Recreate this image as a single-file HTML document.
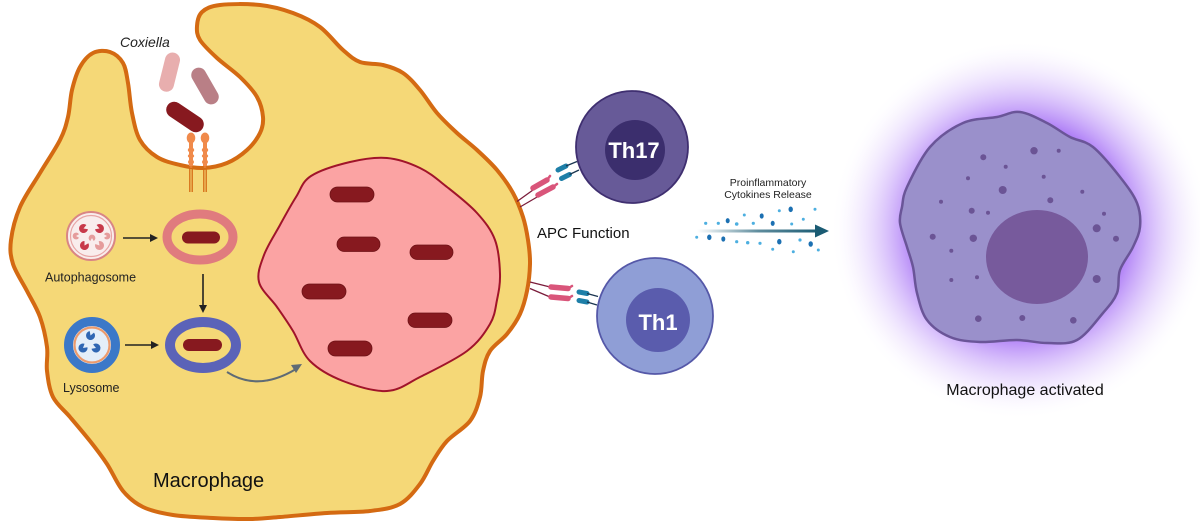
<!DOCTYPE html>
<html><head><meta charset="utf-8">
<style>
html,body{margin:0;padding:0;background:#fff;}
svg{display:block;}
text{font-family:"Liberation Sans",Arial,sans-serif;}
</style></head>
<body>
<svg id="s" width="1200" height="528" viewBox="0 0 1200 528" xmlns="http://www.w3.org/2000/svg">
<defs>
  <radialGradient id="glow" cx="1020" cy="230" r="190" gradientUnits="userSpaceOnUse">
    <stop offset="0" stop-color="#9a5cf2"/>
    <stop offset="0.55" stop-color="#a671f5" stop-opacity="0.95"/>
    <stop offset="0.72" stop-color="#c7a4fa" stop-opacity="0.6"/>
    <stop offset="0.88" stop-color="#e8d9fd" stop-opacity="0.3"/>
    <stop offset="1" stop-color="#ffffff" stop-opacity="0"/>
  </radialGradient>
  <linearGradient id="ag" x1="697" y1="0" x2="820" y2="0" gradientUnits="userSpaceOnUse">
    <stop offset="0" stop-color="#1a5b73" stop-opacity="0"/>
    <stop offset="0.5" stop-color="#1a5b73" stop-opacity="0.7"/>
    <stop offset="1" stop-color="#1a5b73"/>
  </linearGradient>
</defs>

<!-- ============ MACROPHAGE (left) ============ -->
<polygon class="smooth" fill="#f5d877" stroke="#d46a12" stroke-width="4" stroke-linejoin="round"
 points="93,53 110,52 123,63 128,83 132,113 140,140 157,157 180,165 203,168 227,163 247,150 260,133 263,117 257,97 240,77 217,58 200,40 197,26 202,12 220,5 260,5 293,13 320,27 343,50 360,62 383,65 403,73 420,90 437,113 457,133 477,150 497,170 513,193 523,217 528,240 530,264 527,291 520,314 507,334 490,351 483,371 480,397 470,421 447,441 433,461 420,484 400,504 370,511 327,513 280,517 250,519 213,518 173,515 143,507 123,491 107,464 90,441 70,417 53,397 47,371 47,347 40,317 27,291 13,264 11,240 20,207 40,173 60,140 68,117 72,90 80,67"/>

<!-- Coxiella -->
<text x="120" y="47" font-size="14" font-style="italic" fill="#222">Coxiella</text>
<rect x="149" y="64" width="40" height="15" rx="7.5" fill="#e8aeae" transform="rotate(104 169 72)"/>
<rect x="185" y="78.5" width="40" height="15" rx="7.5" fill="#b97f86" transform="rotate(60 205 86)"/>
<rect x="164" y="109" width="42" height="16" rx="8" fill="#87191f" transform="rotate(34 185 117)"/>

<!-- receptors in pocket -->
<g fill="#f08a4b" stroke="#f08a4b">
  <ellipse cx="191" cy="138" rx="4.3" ry="5.5" stroke="none"/>
  <ellipse cx="205" cy="138" rx="4.3" ry="5.5" stroke="none"/>
  <rect x="189" y="142" width="4" height="26" stroke="none"/>
  <rect x="203" y="142" width="4" height="26" stroke="none"/>
  <ellipse cx="191" cy="150" rx="3.2" ry="2.5" stroke="none"/>
  <ellipse cx="205" cy="150" rx="3.2" ry="2.5" stroke="none"/>
  <ellipse cx="191" cy="156" rx="3.2" ry="2" stroke="none"/>
  <ellipse cx="205" cy="156" rx="3.2" ry="2" stroke="none"/>
  <ellipse cx="191" cy="162" rx="3" ry="2.5" stroke="none"/>
  <ellipse cx="205" cy="162" rx="3" ry="2.5" stroke="none"/>
</g>
<g stroke="#d46a12" stroke-width="1.3">
  <line x1="189.8" y1="166" x2="189.8" y2="192"/>
  <line x1="192.2" y1="166" x2="192.2" y2="192"/>
  <line x1="203.8" y1="166" x2="203.8" y2="192"/>
  <line x1="206.2" y1="166" x2="206.2" y2="192"/>
</g>

<!-- Autophagosome -->
<circle cx="91" cy="236" r="24" fill="#f9eded" stroke="#d98585" stroke-width="2"/>
<circle cx="91" cy="236" r="20.5" fill="none" stroke="#e8a5a5" stroke-width="1.2"/>
<g fill="#c8394a">
  <path d="M0,0 L3.9,-2.25 A4.5,4.5 0 1,0 3.9,2.25 Z" transform="translate(83.5,228.5) rotate(-20)"/>
  <path d="M0,0 L3.9,-2.25 A4.5,4.5 0 1,0 3.9,2.25 Z" transform="translate(99.5,228.5) rotate(200)"/>
  <path d="M0,0 L3.9,-2.25 A4.5,4.5 0 1,0 3.9,2.25 Z" transform="translate(84.5,245.5) rotate(-60)"/>
</g>
<g fill="#e59c9c">
  <path d="M0,0 L3,-1.7 A3.4,3.4 0 1,0 3,1.7 Z" transform="translate(76,236) rotate(0)"/>
  <path d="M0,0 L3,-1.7 A3.4,3.4 0 1,0 3,1.7 Z" transform="translate(92,238) rotate(90)"/>
  <path d="M0,0 L3,-1.7 A3.4,3.4 0 1,0 3,1.7 Z" transform="translate(107,236) rotate(180)"/>
  <path d="M0,0 L3.9,-2.25 A4.5,4.5 0 1,0 3.9,2.25 Z" transform="translate(99.5,245.5) rotate(230)"/>
</g>
<text x="45" y="281.5" font-size="12.5" fill="#222">Autophagosome</text>

<!-- arrow autophagosome -> vesicle -->
<line x1="123" y1="238" x2="151" y2="238" stroke="#222" stroke-width="1.6"/>
<polygon points="158,238 150,234 150,242" fill="#222"/>

<!-- pink vesicle -->
<ellipse cx="200" cy="237" rx="33" ry="23" fill="#f5d877" stroke="#e07b7e" stroke-width="9"/>
<rect x="182" y="231.5" width="38" height="12" rx="6" fill="#87191f"/>

<!-- down arrow -->
<line x1="203" y1="274" x2="203" y2="306" stroke="#222" stroke-width="1.6"/>
<polygon points="203,313 199,305 207,305" fill="#222"/>

<!-- Lysosome -->
<circle cx="92" cy="345" r="23.5" fill="#e4eef9" stroke="#3b78c8" stroke-width="9"/>
<circle cx="92" cy="345" r="17.5" fill="none" stroke="#ec9a6c" stroke-width="2.2"/>
<circle cx="92" cy="345" r="15" fill="#e4eef9"/>
<g fill="#2f66b3">
  <path d="M0,0 L3.9,-2.25 A4.5,4.5 0 1,0 3.9,2.25 Z" transform="translate(90.5,335.5) rotate(-70)"/>
  <path d="M0,0 L3.9,-2.25 A4.5,4.5 0 1,0 3.9,2.25 Z" transform="translate(83,348) rotate(-40)"/>
  <path d="M0,0 L3.9,-2.25 A4.5,4.5 0 1,0 3.9,2.25 Z" transform="translate(96,348) rotate(200)"/>
</g>
<text x="63" y="392" font-size="12.5" fill="#222">Lysosome</text>

<!-- arrow lysosome -> vesicle -->
<line x1="125" y1="345" x2="151" y2="345" stroke="#222" stroke-width="1.6"/>
<polygon points="159,345 151,341 151,349" fill="#222"/>

<!-- blue vesicle -->
<ellipse cx="203" cy="345" rx="33" ry="23" fill="#f5d877" stroke="#5b63b8" stroke-width="10"/>
<rect x="183" y="339" width="39" height="12" rx="6" fill="#87191f"/>

<!-- curved gray arrow -->
<path d="M227,372 Q258,392 296,369" fill="none" stroke="#5f6b75" stroke-width="2"/>
<polygon points="302,364 291,365 296,373" fill="#5f6b75"/>

<!-- Nucleus (pink) -->
<polygon class="smooth" fill="#fba3a3" stroke="#a0142a" stroke-width="2" stroke-linejoin="round"
 points="311,176 350,162 387,158 420,168 447,187 477,213 495,240 500,274 497,300 490,324 467,351 420,377 387,391 343,381 310,361 293,331 277,307 259,282 264,255 280,225 296,197"/>
<g fill="#87191f" stroke="#6e1216" stroke-width="0.8">
  <rect x="330" y="187" width="44" height="15" rx="7.5"/>
  <rect x="337" y="237" width="43" height="14.5" rx="7.2"/>
  <rect x="410" y="245" width="43" height="14.5" rx="7.2"/>
  <rect x="302" y="284" width="44" height="15" rx="7.5"/>
  <rect x="408" y="313" width="44" height="14.5" rx="7.2"/>
  <rect x="328" y="341" width="44" height="15" rx="7.5"/>
</g>

<text x="153" y="487" font-size="20" fill="#111">Macrophage</text>

<!-- ============ T cells ============ -->
<!-- receptors top -->
<g stroke="#7a1c3a" stroke-width="1.3">
  <line x1="517" y1="201.5" x2="533" y2="190"/>
  <line x1="520" y1="207" x2="538" y2="196.5"/>
</g>
<g stroke="#d9557a" stroke-width="5.5" stroke-linecap="round">
  <line x1="533" y1="188" x2="547" y2="180"/>
  <line x1="538" y1="195" x2="553" y2="187"/>
</g>
<g stroke="#d9557a" stroke-width="2.5" stroke-linecap="round">
  <line x1="547" y1="180" x2="550" y2="176"/>
  <line x1="553" y1="187" x2="557" y2="184"/>
</g>
<g stroke="#1e7fa8" stroke-width="5" stroke-linecap="round">
  <line x1="558" y1="170" x2="566" y2="166"/>
  <line x1="561.5" y1="178.5" x2="569.5" y2="174.5"/>
</g>
<g stroke="#1a3550" stroke-width="1.3">
  <line x1="566" y1="166" x2="577" y2="161.5"/>
  <line x1="569.5" y1="174.5" x2="579" y2="170"/>
</g>

<!-- receptors bottom -->
<g stroke="#7a1c3a" stroke-width="1.3">
  <line x1="530" y1="282" x2="550" y2="287"/>
  <line x1="530" y1="288.5" x2="550" y2="297"/>
</g>
<g stroke="#d9557a" stroke-width="5.5" stroke-linecap="round">
  <line x1="551" y1="287" x2="568" y2="288.5"/>
  <line x1="551" y1="297" x2="568" y2="298.5"/>
</g>
<g stroke="#d9557a" stroke-width="2.5" stroke-linecap="round">
  <line x1="568" y1="288.5" x2="572" y2="286"/>
  <line x1="568" y1="298.5" x2="572" y2="296"/>
</g>
<g stroke="#1e7fa8" stroke-width="5" stroke-linecap="round">
  <line x1="579" y1="292" x2="587" y2="293.5"/>
  <line x1="579" y1="300.5" x2="587" y2="302"/>
</g>
<g stroke="#1a3550" stroke-width="1.3">
  <line x1="587" y1="293.5" x2="598" y2="296.5"/>
  <line x1="587" y1="302" x2="597" y2="305"/>
</g>

<!-- Th17 -->
<circle cx="632" cy="147" r="56" fill="#675a98" stroke="#3f2f70" stroke-width="1.8"/>
<circle cx="635" cy="150" r="30" fill="#3b2e6d"/>
<text x="634" y="158" font-size="22" font-weight="bold" fill="#fff" text-anchor="middle">Th17</text>

<!-- Th1 -->
<circle cx="655" cy="316" r="58" fill="#8f9ed6" stroke="#5558a8" stroke-width="1.8"/>
<circle cx="658" cy="320" r="32" fill="#5a5cad"/>
<text x="658" y="330" font-size="22" font-weight="bold" fill="#fff" text-anchor="middle">Th1</text>

<text x="537" y="238" font-size="15" fill="#111">APC Function</text>

<!-- Cytokines -->
<text x="768" y="186" font-size="10.5" fill="#222" text-anchor="middle">Proinflammatory</text>
<text x="768" y="198" font-size="10.5" fill="#222" text-anchor="middle">Cytokines Release</text>
<line x1="697" y1="231" x2="818" y2="231" stroke="url(#ag)" stroke-width="3"/>
<polygon points="815,224.5 829,231 815,237.5" fill="#1a5b73"/>
<g fill="#4dafe0">
  <circle cx="705.7" cy="223.3" r="1.6"/>
  <circle cx="718.3" cy="223.3" r="1.6"/>
  <circle cx="736.7" cy="224" r="1.8"/>
  <circle cx="744.3" cy="215" r="1.5"/>
  <circle cx="753.3" cy="223.3" r="1.6"/>
  <circle cx="779.3" cy="210.7" r="1.5"/>
  <circle cx="791.7" cy="224" r="1.5"/>
  <circle cx="803.3" cy="219.3" r="1.5"/>
  <circle cx="815" cy="209.3" r="1.5"/>
  <circle cx="696.7" cy="237.3" r="1.5"/>
  <circle cx="736.7" cy="241.7" r="1.6"/>
  <circle cx="747.7" cy="242.7" r="1.7"/>
  <circle cx="760" cy="243.3" r="1.6"/>
  <circle cx="772.7" cy="249.3" r="1.5"/>
  <circle cx="793.3" cy="251.7" r="1.5"/>
  <circle cx="800" cy="240" r="1.6"/>
  <circle cx="818.3" cy="250" r="1.5"/>
</g>
<g fill="#1c70b2">
  <ellipse cx="727.7" cy="220.7" rx="2" ry="2.6"/>
  <ellipse cx="761.7" cy="216" rx="2" ry="2.6"/>
  <ellipse cx="772.7" cy="223.3" rx="2" ry="2.6"/>
  <ellipse cx="790.7" cy="209.3" rx="2.2" ry="2.8"/>
  <ellipse cx="709.3" cy="237.3" rx="2.2" ry="2.8"/>
  <ellipse cx="723.3" cy="239" rx="2" ry="2.6"/>
  <ellipse cx="779.3" cy="241.7" rx="2.2" ry="2.8"/>
  <ellipse cx="810.7" cy="244" rx="2.2" ry="2.8"/>
</g>

<!-- ============ Activated macrophage ============ -->
<circle cx="1020" cy="230" r="190" fill="url(#glow)"/>
<polygon class="smooth" fill="#9a90cb" stroke="#6a5598" stroke-width="2.5" stroke-linejoin="round"
 points="902,207 907,187 930,147 963,123 997,117 1020,112 1047,123 1070,137 1093,147 1120,177 1137,203 1140,227 1133,247 1120,270 1117,293 1103,313 1077,340 1047,343 1017,340 980,342 950,337 927,320 917,293 913,267 907,247 900,223"/>
<ellipse cx="1037" cy="257" rx="51" ry="47" fill="#775a9c"/>
<g fill="#6b5495">
  <circle cx="983.3" cy="157.3" r="3"/>
  <circle cx="1034" cy="150.7" r="3.7"/>
  <circle cx="1058.7" cy="150.7" r="2"/>
  <circle cx="1005.7" cy="166.7" r="2"/>
  <circle cx="968" cy="178.3" r="2"/>
  <circle cx="1043.7" cy="176.7" r="2"/>
  <circle cx="1002.7" cy="190" r="4"/>
  <circle cx="1082.3" cy="191.7" r="2"/>
  <circle cx="941" cy="201.7" r="2"/>
  <circle cx="1050.3" cy="200.3" r="3"/>
  <circle cx="971.7" cy="210.7" r="3"/>
  <circle cx="988" cy="212.7" r="2"/>
  <circle cx="1104" cy="213.7" r="2"/>
  <circle cx="1096.7" cy="228.3" r="4"/>
  <circle cx="932.7" cy="236.7" r="3"/>
  <circle cx="973.3" cy="238.3" r="3.7"/>
  <circle cx="1116" cy="238.7" r="3"/>
  <circle cx="951.3" cy="250.7" r="2"/>
  <circle cx="977" cy="277.3" r="2"/>
  <circle cx="951.3" cy="280" r="2"/>
  <circle cx="1096.7" cy="279" r="4"/>
  <circle cx="978.3" cy="318.7" r="3.3"/>
  <circle cx="1022.3" cy="318" r="3"/>
  <circle cx="1073.3" cy="320.3" r="3.3"/>
</g>
<text x="1025" y="395" font-size="16" fill="#111" text-anchor="middle">Macrophage activated</text>
</svg>
<script>
(function(){
  var ns="http://www.w3.org/2000/svg";
  var polys=document.querySelectorAll("polygon.smooth");
  for(var k=0;k<polys.length;k++){
    var pg=polys[k];
    var nums=pg.getAttribute("points").trim().split(/[\s,]+/).map(Number);
    var P=[];for(var i=0;i<nums.length;i+=2)P.push([nums[i],nums[i+1]]);
    var n=P.length;var d="M"+P[0][0]+","+P[0][1];
    for(var i=0;i<n;i++){
      var p0=P[(i-1+n)%n],p1=P[i],p2=P[(i+1)%n],p3=P[(i+2)%n];
      var c1x=p1[0]+(p2[0]-p0[0])/6,c1y=p1[1]+(p2[1]-p0[1])/6;
      var c2x=p2[0]-(p3[0]-p1[0])/6,c2y=p2[1]-(p3[1]-p1[1])/6;
      d+=" C"+c1x.toFixed(1)+","+c1y.toFixed(1)+" "+c2x.toFixed(1)+","+c2y.toFixed(1)+" "+p2[0]+","+p2[1];
    }
    d+=" Z";
    var path=document.createElementNS(ns,"path");
    path.setAttribute("d",d);
    ["fill","stroke","stroke-width","stroke-linejoin"].forEach(function(a){if(pg.getAttribute(a))path.setAttribute(a,pg.getAttribute(a));});
    pg.parentNode.replaceChild(path,pg);
  }
})();
</script>
</body></html>
